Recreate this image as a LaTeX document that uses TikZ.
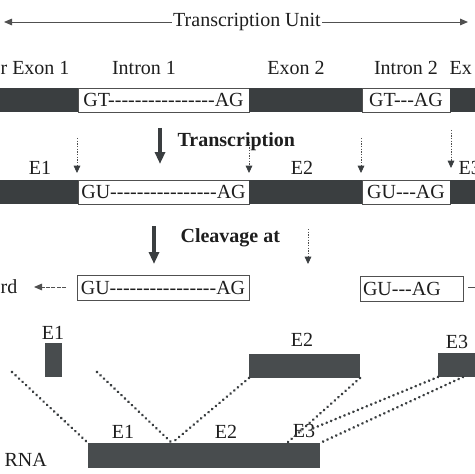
\documentclass[tikz,border=0pt]{standalone}
\usepackage{fontspec}
\setmainfont{Liberation Serif}
\usetikzlibrary{arrows.meta}
\definecolor{dk}{RGB}{58,62,64}
\definecolor{dkb}{RGB}{72,76,78}
\definecolor{ln}{RGB}{80,80,80}
\definecolor{tx}{RGB}{30,30,30}
\newcommand\hys[1]{\foreach \i in {1,...,#1}{-\kern0pt}}
\tikzset{
  seg/.style 2 args={minimum width=#1*0.75pt, minimum height=#2*0.75pt, inner sep=0pt, outer sep=0pt, anchor=north west},
  darkseg/.style={fill=dk, draw=none},
  darkpiece/.style={fill=dkb, draw=none},
  intron/.style={fill=white, draw=ln, line width=0.6pt, text=tx},
  lab/.style={text=tx, inner sep=1pt},
  boldlab/.style={text=tx, inner sep=1pt, font=\fontsize{15}{17}\selectfont\bfseries},
  thinline/.style={draw=ln, line width=0.7pt, -{Triangle[width=5pt,length=6pt]}},
  boldarrow/.style={draw=dk, line width=2.4pt, -{Triangle[width=7.5pt,length=9pt]}},
  dotarrow/.style={draw=ln, line width=0.6pt, dash pattern=on 1pt off 1pt, -{Triangle[width=5pt,length=5.5pt,color=dk,fill=dk]}},
  dotline/.style={draw=dk, line width=2.2pt, dash pattern=on 0.01pt off 3.6pt, line cap=round},
}
\begin{document}
\begin{tikzpicture}[x=0.75pt, y=-0.75pt, font=\fontsize{15}{17}\selectfont]
\useasboundingbox (0,0) rectangle (474,474);

% title arrow
\node[lab] (tu) at (247,22) {Transcription Unit};
\coordinate (tuL) at (4,22);
\coordinate (tuR) at (468,22);
\draw[thinline] (tu.west) -- (tuL);
\draw[thinline] (tu.east) -- (tuR);

% labels row
\node[lab, anchor=west] (lx1) at (-1,68) {r Exon 1};
\node[lab] (li1) at (144,68) {Intron 1};
\node[lab] (lx2) at (296,68) {Exon 2};
\node[lab] (li2) at (406,68) {Intron 2};
\node[lab, anchor=west] (lx3) at (448,68) {Ex};

% gene bar
\node[seg={78}{24}, darkseg] (g1) at (0,88) {};
\node[seg={171}{24}, intron] (g2) at (78,88) {GT\hys{16}AG};
\node[seg={113}{24}, darkseg] (g3) at (249,88) {};
\node[seg={88}{24}, intron] (g4) at (362,88) {GT\hys{3}AG};
\node[seg={30}{24}, darkseg] (g5) at (450,88) {};

% transcription step
\coordinate (ta1) at (160,128);
\coordinate (ta2) at (160,164);
\draw[boldarrow] (ta1) -- (ta2);
\node[boldlab, anchor=west] (tr) at (176,142) {Transcription};

% dotted site arrows
\coordinate (s1a) at (77,138);  \coordinate (s1b) at (77,173);
\coordinate (s2a) at (249,142); \coordinate (s2b) at (249,173);
\coordinate (s3a) at (361,138); \coordinate (s3b) at (361,173);
\coordinate (s4a) at (451,130); \coordinate (s4b) at (451,168);
\draw[dotarrow] (s1a) -- (s1b);
\draw[dotarrow] (s2a) -- (s2b);
\draw[dotarrow] (s3a) -- (s3b);
\draw[dotarrow] (s4a) -- (s4b);

\node[lab] (e1) at (40,168) {E1};
\node[lab] (e2) at (302,168) {E2};
\node[lab, anchor=west] (e3) at (457,168) {E3};

% RNA bar
\node[seg={78}{24}, darkseg] (r1) at (0,180) {};
\node[seg={171}{24}, intron] (r2) at (78,180) {GU\hys{16}AG};
\node[seg={113}{24}, darkseg] (r3) at (249,180) {};
\node[seg={88}{24}, intron] (r4) at (362,180) {GU\hys{3}AG};
\node[seg={30}{24}, darkseg] (r5) at (450,180) {};

% cleavage step
\coordinate (ca1) at (154,226);
\coordinate (ca2) at (154,264);
\draw[boldarrow] (ca1) -- (ca2);
\node[boldlab, anchor=west] (cl) at (179,238) {Cleavage at};
\coordinate (cd1) at (308,229);
\coordinate (cd2) at (308,264);
\draw[dotarrow] (cd1) -- (cd2);

% discarded introns
\node[lab, anchor=west] (rd) at (-1,287) {rd};
\coordinate (ra) at (66,287);
\coordinate (rb) at (34,287);
\draw[thinline, dash pattern=on 3pt off 1pt] (ra) -- (rb);
\node[seg={172}{25}, intron] (b1) at (77,275) {GU\hys{16}AG};
\node[seg={103}{25}, intron, text width=97*0.75pt, align=left, inner xsep=3*0.75pt] (b2) at (360,276) {GU\hys{3}AG};
\coordinate (rs1) at (468,287);
\coordinate (rs2) at (476,287);
\draw[draw=ln, line width=0.7pt] (rs1) -- (rs2);

% exon pieces
\node[lab] (x1l) at (53,333) {E1};
\node[seg={17}{34}, darkpiece] (x1) at (45,343) {};
\node[lab] (x2l) at (302,340) {E2};
\node[seg={111}{24}, darkpiece] (x2) at (249,354) {};
\node[lab] (x3l) at (457,342) {E3};
\node[seg={40}{24}, darkpiece] (x3) at (438,353) {};

% spliced RNA
\node[seg={232}{25}, darkpiece] (rna) at (88,443) {};
\node[lab] (m1) at (123,432) {E1};
\node[lab] (m2) at (226,432) {E2};
\node[lab] (m3) at (304,431) {E3};
\node[lab, anchor=west] (rnal) at (3,460) {RNA};

% splice connectors
\coordinate (p1) at (12,372);
\coordinate (p2) at (97,372);
\coordinate (j1) at (172,443);
\coordinate (j2) at (287,443);
\coordinate (j3) at (309,430);
\coordinate (x3se) at (463,377);
\draw[dotline] (p1) -- (rna.north west);
\draw[dotline] (p2) -- (j1);
\draw[dotline] (x2.south west) -- (j1);
\draw[dotline] (x2.south east) -- (j2);
\draw[dotline] (x3.south west) -- (j3);
\draw[dotline] (x3se) -- (rna.north east);
\end{tikzpicture}
\end{document}
